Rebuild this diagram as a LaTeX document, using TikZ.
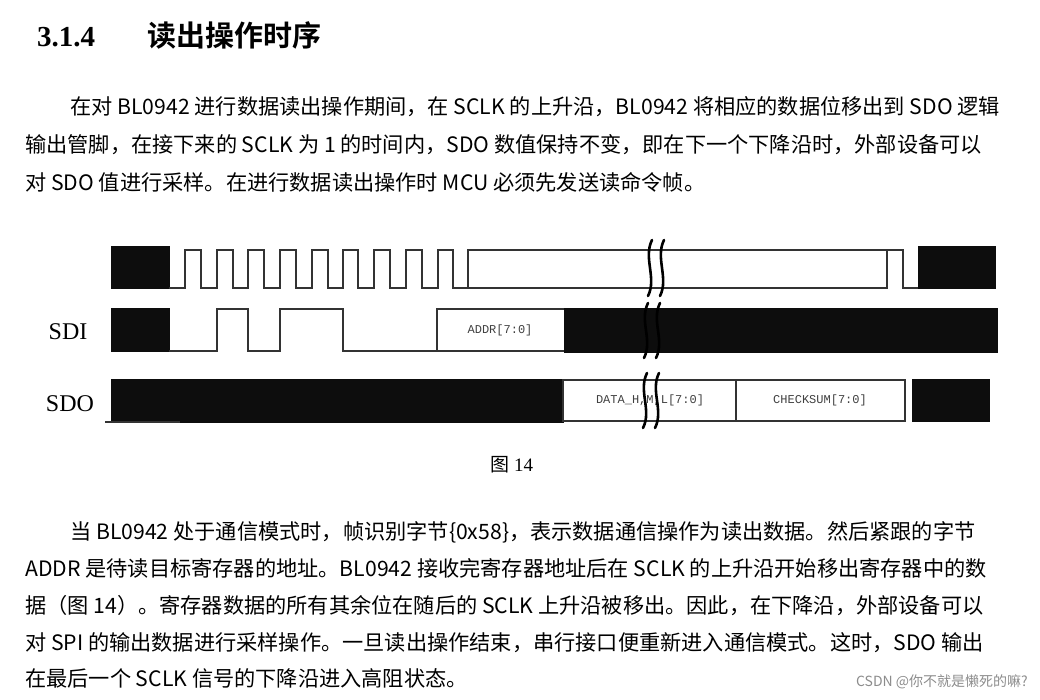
\documentclass[tikz,border=0pt]{standalone}
\usepackage{fontspec}
\setmainfont{Liberation Serif}
\newfontfamily\cjk{Noto Sans CJK SC}
\newfontfamily\cjkb{Noto Sans CJK SC Bold}
\newfontfamily\monof{Liberation Mono}
\begin{document}
\begin{tikzpicture}[x=1pt,y=-1pt,
  para/.style={anchor=base west,inner sep=0,font=\cjk\fontsize{21.2}{21}\selectfont},
  wave/.style={line width=1.2pt,black!80},
  blk/.style={fill=black!95,draw=black!95},
  lbl/.style={font=\monof\fontsize{12}{12}\selectfont,text=black!75},
  brk/.style={line width=2.6pt,line cap=round}]
\useasboundingbox (0,0) rectangle (1040,699);
% title
\node[anchor=base west,inner sep=0] (t1) at (37,46) {\fontsize{29}{29}\selectfont\bfseries 3.1.4};
\node[anchor=base west,inner sep=0] (t2) at (147,46) {\cjkb\fontsize{29}{29}\selectfont 读出操作时序};
% paragraph 1
\node[para] (p1) at (70,114) {在对 BL0942 进行数据读出操作期间，在 SCLK 的上升沿，BL0942 将相应的数据位移出到 SDO 逻辑};
\node[para] (p2) at (25,152) {输出管脚，在接下来的 SCLK 为 1 的时间内，SDO 数值保持不变，即在下一个下降沿时，外部设备可以};
\node[para] (p3) at (25,190) {对 SDO 值进行采样。在进行数据读出操作时 MCU 必须先发送读命令帧。};
% SCLK
\fill[blk] (111,246) rectangle (169,288);
\draw[wave] (169,288) -- (185,288) -- (185,250) -- (201,250) -- (201,288) -- (217,288) -- (217,250) -- (233,250) -- (233,288)
 -- (248,288) -- (248,250) -- (264,250) -- (264,288) -- (280,288) -- (280,250) -- (296,250) -- (296,288)
 -- (312,288) -- (312,250) -- (328,250) -- (328,288) -- (343,288) -- (343,250) -- (358,250) -- (358,288)
 -- (374,288) -- (374,250) -- (390,250) -- (390,288) -- (406,288) -- (406,250) -- (422,250) -- (422,288)
 -- (438,288) -- (438,250) -- (453,250) -- (453,288) -- (468,288) -- (468,250) -- (887,250) -- (887,288) -- (468,288);
\draw[wave] (887,250) -- (903,250) -- (903,288) -- (918,288);
\fill[blk] (918,246) rectangle (995,288);
% SDI
\node[anchor=base,inner sep=0,font=\fontsize{24}{24}\selectfont] (sdi) at (68,339) {SDI};
\fill[blk] (111,308) rectangle (169,351);
\draw[wave] (169,351) -- (217,351) -- (217,309) -- (248,309) -- (248,351) -- (280,351) -- (280,309) -- (343,309) -- (343,351) -- (437,351) -- (437,309) -- (564,309);
\draw[wave] (437,351) -- (564,351);
\node[lbl] (addr) at (500,330) {ADDR[7:0]};
\fill[blk] (564,308) rectangle (997,352);
% SDO
\node[anchor=base,inner sep=0,font=\fontsize{24}{24}\selectfont] (sdo) at (70,411) {SDO};
\fill[blk] (111,379) rectangle (563,422);
\draw[wave] (105,422) -- (180,422);
\draw[wave] (563,380) rectangle (736,421);
\draw[wave] (736,380) rectangle (905,421);
\node[lbl] (data) at (650,400) {DATA\_H,M,L[7:0]};
\node[lbl] (chk) at (820,400) {CHECKSUM[7:0]};
\fill[blk] (912,379) rectangle (989,421);
% breaks
\foreach \x/\a/\b in {650/240/296,662/240/296,646/303/358,658/303/358,645/373/428,657/373/428}{
  \draw[brk] (\x+2,\a) .. controls (\x-7,\a+18) and (\x+7,\b-18) .. (\x-2,\b);
}
% caption
\node[anchor=base,inner sep=0] (cap) at (512,471) {\cjk\fontsize{19}{19}\selectfont 图 \fontspec{Liberation Serif}14};
% paragraph 2
\node[para] (q1) at (70,539) {当 BL0942 处于通信模式时，帧识别字节\{0x58\}，表示数据通信操作为读出数据。然后紧跟的字节};
\node[para] (q2) at (25,576) {ADDR 是待读目标寄存器的地址。BL0942 接收完寄存器地址后在 SCLK 的上升沿开始移出寄存器中的数};
\node[para] (q3) at (25,613) {据（图 14）。寄存器数据的所有其余位在随后的 SCLK 上升沿被移出。因此，在下降沿，外部设备可以};
\node[para] (q4) at (25,650) {对 SPI 的输出数据进行采样操作。一旦读出操作结束，串行接口便重新进入通信模式。这时，SDO 输出};
\node[para] (q5) at (25,686) {在最后一个 SCLK 信号的下降沿进入高阻状态。};
\node[anchor=base east,inner sep=0,font=\cjk\fontsize{14}{14}\selectfont,text=black!45] (wm) at (1028,686) {CSDN @你不就是懒死的嘛?};
\end{tikzpicture}
\end{document}
